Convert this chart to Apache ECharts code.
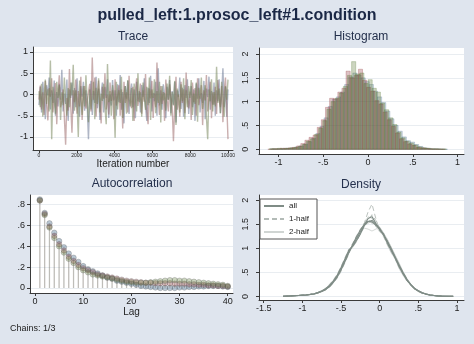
<!DOCTYPE html>
<html>
<head>
<meta charset="utf-8">
<script src="https://cdn.jsdelivr.net/npm/echarts@6/dist/echarts.min.js"></script>
<style>
html,body{margin:0;padding:0;background:#dfe5ee;}
#c{width:474px;height:344px;}
</style>
</head>
<body>
<div id="c"></div>
<script>
// ---------------- DATA ----------------
const mainTitle = 'pulled_left:1.prosoc_left#1.condition';
const panelTitles = ['Trace', 'Histogram', 'Autocorrelation', 'Density'];
const chainNote = 'Chains: 1/3';

// Trace: thinned draws per chain, spread across iterations 0..10000
const traceLastIter = 10000;
const traceChain1 = [
 -0.12,0.21,-0.35,0.05,-0.48,0.32,-0.2,-0.61,0.15,-0.05,0.38,-0.42,-0.1,0.27,-0.7,0.02,0.45,-0.3,-0.15,0.12,
 -0.55,-1.18,-0.08,-0.38,0.6,-0.25,-0.9,0.1,-0.18,0.35,-0.45,0.08,-0.28,0.42,-0.6,-0.02,0.2,-0.33,-0.3,0.05,
 0.25,-0.4,0.87,-0.12,0.4,-0.52,-0.05,0.33,-0.22,-0.68,0.18,-0.1,0.5,-0.35,0.0,-0.47,0.28,-0.15,0.1,-0.58,
 0.36,-0.26,-0.03,0.22,-0.5,0.12,-0.8,0.3,-0.2,0.05,-0.42,0.44,-0.13,-0.32,0.18,-0.62,0.08,0.38,-0.27,-0.06,
 0.26,-0.45,0.1,-0.17,0.48,-0.38,-0.7,0.14,-0.09,0.32,-0.55,0.03,-0.3,0.75,-0.12,-0.48,0.2,-0.22,0.06,-0.62,
 0.35,-0.15,-0.4,0.24,-0.05,-0.3,-1.1,-0.28,0.42,-0.36,0.0,-0.52,0.3,-0.2,0.12,-0.44,0.52,-0.1,-0.33,0.07,
 -0.6,0.28,-0.18,0.15,-0.5,0.38,-0.25,-0.04,0.22,-0.72,0.1,-0.14,0.46,-0.4,-0.08,0.3,-0.56,0.05,-0.24,0.18,
 -0.46,0.34,-0.11,-0.3,0.2,-0.65,0.08,0.4,-0.2,-1.05];
const traceChain2 = [
 0.08,-0.3,0.25,-0.52,-0.05,0.35,-0.22,0.12,-0.4,0.8,-1.05,0.18,-0.15,-0.45,0.3,-0.08,0.22,-0.6,0.05,-0.25,
 0.4,-0.12,-0.5,0.15,-0.3,0.28,-0.02,0.7,-0.38,0.1,-0.2,-1.0,0.33,-0.1,-0.48,0.2,-0.28,0.45,-0.15,-0.65,
 0.12,-0.35,-0.05,0.3,-0.58,0.16,-0.22,0.38,-0.42,0.02,-0.15,0.25,-0.3,-0.7,0.72,-0.18,0.08,-0.5,0.22,-0.1,
 -1.02,0.3,-0.35,0.1,-0.2,0.42,-0.55,-0.02,0.2,-0.45,0.34,-0.12,-0.28,0.15,-0.62,0.26,-0.06,-0.4,0.5,-0.18,
 0.05,-0.52,0.28,-0.1,-0.36,0.18,-0.25,0.4,-0.6,0.12,-0.08,0.36,-0.44,0.08,-0.2,0.3,-0.66,0.2,-0.14,0.04,
 -0.38,0.26,-0.12,0.44,-0.5,0.06,-0.26,0.32,-0.72,0.14,-0.04,-0.42,0.24,-0.16,0.38,-0.58,0.1,-0.3,0.2,-0.08,
 0.34,-0.48,0.02,-0.22,0.28,-0.64,0.16,-0.1,0.4,-0.34,-0.02,0.22,-0.54,-1.05,0.12,-0.16,0.36,-0.4,0.06,-0.28,
 0.65,-0.2,0.14,-0.44,0.3,-0.08,-0.52,0.2,-0.12,0.35];
const traceChain3 = [
 -0.25,0.18,-0.42,0.3,-0.1,-0.58,0.22,-0.02,0.4,-0.35,0.1,-0.2,0.33,-0.5,0.06,-0.28,0.25,-0.12,0.58,-0.4,
 0.02,-0.22,0.35,-0.62,0.12,-0.08,0.28,-0.45,0.15,-0.3,0.38,-0.15,-0.52,0.2,-0.05,0.3,-0.38,0.1,-0.24,-1.05,
 -0.1,0.32,-0.48,0.08,-0.2,0.42,-0.32,0.14,-0.6,0.04,0.28,-0.42,0.18,-0.08,0.36,-0.55,0.0,-0.26,0.34,-0.14,
 0.1,-0.5,0.24,-0.18,0.46,-0.36,0.06,-0.68,0.2,-0.1,0.32,-0.46,0.0,0.26,-0.3,0.12,-0.56,0.3,-0.16,0.08,
 -0.42,0.22,-0.06,0.38,-0.28,-0.62,0.16,-0.2,0.44,-0.4,0.04,-0.16,0.3,-0.5,0.62,-0.26,0.1,-0.36,0.24,-0.02,
 -0.56,0.18,-0.12,0.34,-0.44,0.08,-0.24,0.3,-0.66,0.1,-0.06,0.4,-0.34,0.16,-0.52,0.22,-0.08,0.36,-0.46,-0.04,
 0.2,-0.3,0.12,-0.62,0.26,-0.1,0.38,-0.42,0.04,-0.2,0.32,-0.58,0.14,-0.06,0.42,-0.36,0.08,-0.24,0.28,-0.5,
 0.1,-0.16,0.36,-0.44,0.02,0.62,-0.3,0.18,-0.52,0.12];
const traceXTicks = [0, 2000, 4000, 6000, 8000, 10000];
const traceYTicks = [-1, -0.5, 0, 0.5, 1];

// Histogram: per chain, first bin edge, bin width, densities
const histStart = [-1.12, -1.104, -1.09];
const histWidth = 0.046;
const histChain1 = [0.0,0.01,0.01,0.02,0.02,0.03,0.04,0.07,0.12,0.19,0.25,0.30,0.46,0.62,0.88,1.07,1.06,1.20,1.28,1.64,1.50,1.55,1.68,1.45,1.30,1.22,1.02,0.95,0.78,0.62,0.48,0.34,0.22,0.16,0.11,0.08,0.04,0.03,0.02,0.01,0.005,0.005,0.0];
const histChain2 = [0.01,0.01,0.02,0.01,0.02,0.03,0.04,0.06,0.10,0.17,0.22,0.31,0.44,0.60,0.84,1.00,1.07,1.18,1.32,1.55,1.84,1.58,1.60,1.38,1.46,1.28,1.20,0.97,0.83,0.66,0.52,0.36,0.24,0.17,0.13,0.09,0.05,0.03,0.02,0.01,0.01,0.005,0.005];
const histChain3 = [0.01,0.01,0.01,0.02,0.02,0.03,0.05,0.07,0.11,0.16,0.23,0.33,0.48,0.66,0.90,1.05,1.10,1.20,1.36,1.52,1.60,1.56,1.50,1.42,1.36,1.22,1.10,0.98,0.80,0.64,0.50,0.38,0.26,0.18,0.15,0.10,0.06,0.03,0.02,0.01,0.01,0.005,0.0];
const histXTicks = [-1, -0.5, 0, 0.5, 1];
const histYTicks = [0, 0.5, 1, 1.5, 2];

// Autocorrelation by lag 1..40
const acLags = [1,2,3,4,5,6,7,8,9,10,11,12,13,14,15,16,17,18,19,20,21,22,23,24,25,26,27,28,29,30,31,32,33,34,35,36,37,38,39,40];
const acChain1 = [0.84,0.71,0.59,0.50,0.42,0.36,0.30,0.26,0.22,0.19,0.17,0.15,0.13,0.12,0.11,0.10,0.09,0.08,0.07,0.065,0.06,0.055,0.05,0.05,0.045,0.045,0.045,0.045,0.04,0.04,0.04,0.035,0.035,0.03,0.03,0.025,0.025,0.02,0.02,0.015];
const acChain2 = [0.84,0.70,0.58,0.48,0.40,0.34,0.28,0.24,0.20,0.17,0.15,0.13,0.12,0.11,0.10,0.09,0.08,0.07,0.06,0.055,0.05,0.05,0.05,0.055,0.06,0.065,0.07,0.075,0.075,0.07,0.07,0.065,0.06,0.055,0.05,0.045,0.04,0.035,0.03,0.02];
const acChain3 = [0.85,0.72,0.62,0.53,0.45,0.39,0.33,0.29,0.25,0.21,0.18,0.16,0.14,0.12,0.10,0.09,0.07,0.06,0.05,0.04,0.03,0.02,0.015,0.01,0.005,0.0,0.0,0.0,0.0,0.005,0.005,0.01,0.01,0.015,0.015,0.02,0.02,0.02,0.015,0.01];
const acXTicks = [0, 10, 20, 30, 40];
const acYTicks = [0, 0.2, 0.4, 0.6, 0.8];

// Density curves
const densX = [-1.25,-1.2,-1.15,-1.1,-1.05,-1.0,-0.95,-0.9,-0.85,-0.8,-0.75,-0.7,-0.65,-0.6,-0.55,-0.5,-0.45,-0.4,-0.35,-0.3,-0.25,-0.2,-0.15,-0.1,-0.05,0.0,0.05,0.1,0.15,0.2,0.25,0.3,0.35,0.4,0.45,0.5,0.55,0.6,0.65,0.7,0.75,0.8,0.85,0.9,0.95];
const densAll1 = [0,0.005,0.01,0.015,0.02,0.025,0.03,0.04,0.05,0.07,0.10,0.15,0.22,0.31,0.42,0.57,0.75,0.93,1.06,1.20,1.34,1.47,1.56,1.58,1.50,1.40,1.28,1.13,0.97,0.81,0.64,0.49,0.35,0.24,0.16,0.11,0.07,0.05,0.03,0.02,0.01,0.005,0.003,0.001,0];
const densAll2 = [0,0.004,0.008,0.012,0.018,0.024,0.03,0.038,0.05,0.075,0.11,0.16,0.23,0.32,0.44,0.60,0.78,0.96,1.04,1.16,1.30,1.48,1.62,1.66,1.52,1.38,1.30,1.10,0.95,0.80,0.62,0.47,0.34,0.25,0.17,0.12,0.075,0.05,0.03,0.02,0.01,0.006,0.003,0.001,0];
const densAll3 = [0,0.005,0.01,0.016,0.02,0.026,0.032,0.042,0.055,0.08,0.11,0.14,0.20,0.29,0.40,0.55,0.72,0.90,1.08,1.24,1.38,1.50,1.56,1.55,1.48,1.42,1.28,1.15,0.99,0.82,0.66,0.50,0.36,0.25,0.16,0.11,0.07,0.045,0.03,0.018,0.01,0.005,0.002,0.001,0];
const densFirst1 = [0,0.004,0.01,0.014,0.018,0.022,0.03,0.04,0.05,0.07,0.10,0.15,0.20,0.28,0.40,0.55,0.74,0.95,1.10,1.20,1.32,1.52,1.76,1.92,1.62,1.36,1.24,1.08,0.92,0.78,0.60,0.46,0.33,0.23,0.15,0.10,0.07,0.05,0.03,0.02,0.01,0.005,0.002,0.001,0];
const densFirst2 = [0,0.005,0.01,0.014,0.02,0.024,0.03,0.04,0.055,0.08,0.12,0.17,0.25,0.34,0.46,0.62,0.80,0.98,1.02,1.14,1.30,1.44,1.58,1.70,1.58,1.42,1.30,1.14,1.00,0.82,0.66,0.50,0.36,0.25,0.17,0.12,0.08,0.05,0.03,0.02,0.01,0.005,0.003,0.001,0];
const densFirst3 = [0,0.006,0.012,0.018,0.022,0.028,0.034,0.044,0.058,0.08,0.10,0.13,0.19,0.28,0.38,0.52,0.70,0.88,1.10,1.26,1.40,1.52,1.60,1.52,1.46,1.40,1.24,1.12,0.96,0.78,0.62,0.48,0.34,0.24,0.16,0.10,0.06,0.04,0.025,0.015,0.008,0.004,0.002,0.001,0];
const densSecond1 = [0,0.006,0.01,0.016,0.022,0.028,0.032,0.04,0.05,0.07,0.10,0.15,0.24,0.34,0.44,0.59,0.76,0.91,1.02,1.20,1.36,1.42,1.40,1.36,1.40,1.44,1.32,1.18,1.02,0.84,0.68,0.52,0.37,0.25,0.17,0.12,0.07,0.05,0.03,0.02,0.01,0.005,0.003,0.001,0];
const densSecond2 = [0,0.003,0.006,0.01,0.016,0.024,0.03,0.036,0.045,0.07,0.10,0.15,0.21,0.30,0.42,0.58,0.76,0.94,1.06,1.18,1.30,1.52,1.66,1.62,1.46,1.34,1.30,1.06,0.90,0.78,0.58,0.44,0.32,0.25,0.17,0.12,0.07,0.05,0.03,0.02,0.012,0.007,0.003,0.001,0];
const densSecond3 = [0,0.004,0.008,0.014,0.018,0.024,0.03,0.04,0.052,0.08,0.12,0.15,0.21,0.30,0.42,0.58,0.74,0.92,1.06,1.22,1.36,1.48,1.52,1.58,1.50,1.44,1.32,1.18,1.02,0.86,0.70,0.52,0.38,0.26,0.16,0.12,0.08,0.05,0.035,0.02,0.012,0.006,0.002,0.001,0];
const densXTicks = [-1.5, -1, -0.5, 0, 0.5, 1];
const densYTicks = [0, 0.5, 1, 1.5, 2];
const legendNames = ['all', '1-half', '2-half'];

// ---------------- STYLE ----------------
const FONT = 'Liberation Sans, Arial, sans-serif';
// chain colours (maroon, forest green, navy); draw order navy -> maroon -> green
const chainRGB = ['144,53,59', '85,117,47', '26,71,111'];
const chainAlpha = [0.3, 0.3, 0.2];
const traceRGB = ['150,95,95', '110,125,80', '95,110,140'];
const drawOrder = [2, 0, 1];
const axisCol = '#3a3a3a';
const gridCol = '#e9edf1';
const fmt = v => {
  let s = String(Math.round(v * 1000) / 1000);
  s = s.replace(/^0\./, '.').replace(/^-0\./, '-.');
  return s;
};

function valAxis(gridIndex, min, max, ticks, opts) {
  opts = opts || {};
  return Object.assign({
    type: 'value', gridIndex, min, max,
    axisLine: { show: true, onZero: false, lineStyle: { color: axisCol, width: 1 } },
    axisTick: { show: true, length: 3, customValues: ticks, lineStyle: { color: axisCol } },
    axisLabel: { customValues: ticks, formatter: fmt, color: '#222', fontSize: 9, fontFamily: FONT, margin: 5, showMinLabel: true, showMaxLabel: true },
    splitLine: { show: false }
  }, opts);
}

const traceSets = [traceChain1, traceChain2, traceChain3];
const histSets = [histChain1, histChain2, histChain3];
const acSets = [acChain1, acChain2, acChain3];
const series = [];
// Trace
drawOrder.forEach(k => {
  const arr = traceSets[k];
  const n = arr.length;
  series.push({
    type: 'line', xAxisIndex: 0, yAxisIndex: 0, showSymbol: false, symbol: 'none', animation: false,
    lineStyle: { width: 1.4, color: 'rgba(' + traceRGB[k] + ',0.5)' },
    data: arr.map((v, i) => [i * traceLastIter / (n - 1), v])
  });
});
// Histogram
drawOrder.forEach(k => {
  const arr = histSets[k];
  series.push({
    type: 'custom', xAxisIndex: 1, yAxisIndex: 1, animation: false,
    encode: { x: [0, 1], y: 2 },
    data: arr.map((h, i) => [histStart[k] + i * histWidth, histStart[k] + (i + 1) * histWidth, h]),
    renderItem: (params, api) => {
      const a = api.coord([api.value(0), api.value(2)]);
      const b = api.coord([api.value(1), 0]);
      return { type: 'rect', shape: { x: a[0], y: a[1], width: b[0] - a[0], height: b[1] - a[1] },
        style: { fill: 'rgba(' + chainRGB[k] + ',' + chainAlpha[k] + ')', stroke: 'rgba(' + chainRGB[k] + ',' + (chainAlpha[k] + 0.05) + ')', lineWidth: 0.8 } };
    }
  });
});
// Autocorrelation spikes + markers
drawOrder.forEach(k => {
  const arr = acSets[k];
  series.push({
    type: 'custom', xAxisIndex: 2, yAxisIndex: 2, animation: false,
    data: arr.map((v, i) => [acLags[i], v]),
    renderItem: (params, api) => {
      const a = api.coord([api.value(0), 0]);
      const b = api.coord([api.value(0), api.value(1)]);
      return { type: 'line', shape: { x1: a[0], y1: a[1], x2: b[0], y2: b[1] },
        style: { stroke: 'rgba(' + chainRGB[k] + ',0.15)', lineWidth: 1.2 } };
    }
  });
});
drawOrder.forEach(k => {
  const arr = acSets[k];
  series.push({
    type: 'scatter', xAxisIndex: 2, yAxisIndex: 2, animation: false, symbolSize: 5.5,
    itemStyle: { color: 'rgba(' + chainRGB[k] + ',0.38)', borderColor: 'rgba(100,100,100,0.55)', borderWidth: 0.7 },
    data: arr.map((v, i) => [acLags[i], v])
  });
});
// Density
const densStyles = [
  { name: 'all', color: '#7f8c86', type: 'solid', width: 1.1, sets: [densAll1, densAll2, densAll3] },
  { name: '1-half', color: '#b3bbb7', type: [5, 3], width: 0.9, sets: [densFirst1, densFirst2, densFirst3] },
  { name: '2-half', color: '#d0d5d3', type: 'solid', width: 0.9, sets: [densSecond1, densSecond2, densSecond3] }
];
densStyles.slice().reverse().forEach(ds => {
  ds.sets.forEach(arr => {
    series.push({
      name: ds.name, type: 'line', xAxisIndex: 3, yAxisIndex: 3, showSymbol: false, symbol: 'none', animation: false,
      lineStyle: { color: ds.color, type: ds.type, width: ds.width }, itemStyle: { color: ds.color },
      data: arr.map((v, i) => [densX[i], v])
    });
  });
});

const option = {
  backgroundColor: '#dfe5ee',
  textStyle: { fontFamily: FONT },
  title: [
    { text: mainTitle, left: 237, top: 8, textAlign: 'center', padding: 0,
      textStyle: { fontSize: 16, fontWeight: 'bold', color: '#1b2846', fontFamily: FONT } },
    { text: panelTitles[0], left: 133, top: 31, textAlign: 'center', padding: 0,
      textStyle: { fontSize: 12, fontWeight: 'normal', color: '#24304c', fontFamily: FONT } },
    { text: panelTitles[1], left: 361, top: 31, textAlign: 'center', padding: 0,
      textStyle: { fontSize: 12, fontWeight: 'normal', color: '#24304c', fontFamily: FONT } },
    { text: panelTitles[2], left: 132, top: 178, textAlign: 'center', padding: 0,
      textStyle: { fontSize: 12, fontWeight: 'normal', color: '#24304c', fontFamily: FONT } },
    { text: panelTitles[3], left: 361, top: 179, textAlign: 'center', padding: 0,
      textStyle: { fontSize: 12, fontWeight: 'normal', color: '#24304c', fontFamily: FONT } },
    { text: chainNote, left: 10, top: 324, padding: 0,
      textStyle: { fontSize: 9, fontWeight: 'normal', color: '#222', fontFamily: FONT } }
  ],
  legend: {
    data: legendNames, left: 260, top: 199, orient: 'vertical', padding: [3, 8, 3, 3],
    itemWidth: 20, itemHeight: 8, itemGap: 5,
    itemStyle: { opacity: 0 },
    backgroundColor: '#fff', borderColor: '#555', borderWidth: 1, borderRadius: 0,
    textStyle: { fontSize: 8, color: '#222', fontFamily: FONT },
    selectedMode: false
  },
  grid: [
    { left: 33, top: 47, width: 200, height: 103, show: true, backgroundColor: '#fff', borderWidth: 0 },
    { left: 259, top: 48, width: 205, height: 106, show: true, backgroundColor: '#fff', borderWidth: 0 },
    { left: 30, top: 195, width: 203, height: 98, show: true, backgroundColor: '#fff', borderWidth: 0 },
    { left: 259, top: 195, width: 205, height: 105, show: true, backgroundColor: '#fff', borderWidth: 0 }
  ],
  xAxis: [
    valAxis(0, -317, 10265, traceXTicks, {
      name: 'Iteration number', nameLocation: 'middle', nameGap: 9,
      nameTextStyle: { fontSize: 10, color: '#222', fontFamily: FONT },
      axisLabel: { customValues: traceXTicks, formatter: v => String(v), color: '#222', fontSize: 5, fontFamily: FONT, margin: 3 }
    }),
    valAxis(1, -1.219, 1.072, histXTicks, { axisLabel: { customValues: histXTicks, formatter: fmt, color: '#222', fontSize: 9, fontFamily: FONT, margin: 4 } }),
    valAxis(2, -1.04, 41.1, acXTicks, {
      name: 'Lag', nameLocation: 'middle', nameGap: 14,
      nameTextStyle: { fontSize: 10, color: '#222', fontFamily: FONT },
      axisLabel: { customValues: acXTicks, formatter: fmt, color: '#222', fontSize: 9, fontFamily: FONT, margin: 4 }
    }),
    valAxis(3, -1.561, 1.09, densXTicks, { axisLabel: { customValues: densXTicks, formatter: fmt, color: '#222', fontSize: 9, fontFamily: FONT, margin: 4 } })
  ],
  yAxis: [
    valAxis(0, -1.306, 1.118, traceYTicks, { splitLine: { show: true, lineStyle: { color: gridCol, width: 1 } } }),
    valAxis(1, -0.099, 2.126, histYTicks, { splitLine: { show: true, lineStyle: { color: gridCol, width: 1 } },
      axisLabel: { customValues: histYTicks, formatter: fmt, color: '#222', fontSize: 9, fontFamily: FONT, margin: 9, rotate: 90 } }),
    valAxis(2, -0.048, 0.892, acYTicks, { splitLine: { show: true, lineStyle: { color: gridCol, width: 1 } } }),
    valAxis(3, -0.075, 2.11, densYTicks, { splitLine: { show: true, lineStyle: { color: gridCol, width: 1 } },
      axisLabel: { customValues: densYTicks, formatter: fmt, color: '#222', fontSize: 9, fontFamily: FONT, margin: 9, rotate: 90 } })
  ],
  series
};
const chart = echarts.init(document.getElementById('c'), null, { renderer: 'canvas' });
chart.setOption(option);
</script>
</body>
</html>
